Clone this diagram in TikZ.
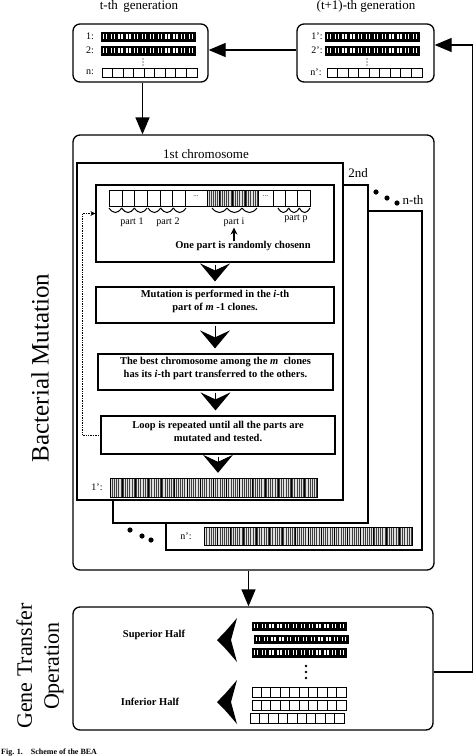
\documentclass[tikz,border=0pt]{standalone}
\usepackage{fontspec}
\setmainfont{Liberation Serif}
\usetikzlibrary{arrows.meta,positioning,fit,patterns.meta,calc}

% bars of genes: x1 y1 x2 y2 cells
\newcommand{\hatchbar}[5]{%
  \fill[gray!25] (#1,#2) rectangle (#3,#4);
  \fill[pattern={Lines[angle=90,distance=2.2pt,line width=0.7pt]}, pattern color=black!75] (#1,#2) rectangle (#3,#4);
  \pgfmathsetmacro\cw{(#3-#1)/#5}
  \foreach \k in {0,...,#5} {\draw[line width=1pt] ({#1+\k*\cw},#2) -- ({#1+\k*\cw},#4);}
  \draw[line width=1pt] (#1,#2) rectangle (#3,#4);}
\newcommand{\darkbar}[5]{%
  \fill[black] (#1,#2) rectangle (#3,#4);
  \pgfmathsetmacro\cw{(#3-#1)/#5}
  \foreach \k in {1,...,#5} {
    \fill[white] ({#1+(\k-1)*\cw+0.22*\cw},#2+1.6) rectangle ({#1+(\k-1)*\cw+0.4*\cw},#4-1.6);
    \fill[white] ({#1+(\k-1)*\cw+0.6*\cw},#2+1.6) rectangle ({#1+(\k-1)*\cw+0.78*\cw},#4-1.6);}
  \draw[line width=0.8pt] (#1,#2) rectangle (#3,#4);}
\newcommand{\whitebar}[5]{%
  \pgfmathsetmacro\cw{(#3-#1)/#5}
  \foreach \k in {0,...,#5} {\draw[line width=1pt] ({#1+\k*\cw},#2) -- ({#1+\k*\cw},#4);}
  \draw[line width=1pt] (#1,#2) rectangle (#3,#4);}

\begin{document}
\begin{tikzpicture}%
	[x=1pt, y=-1pt,
	genbox/.style = {draw, rounded corners=7pt, line width=1.3pt, inner sep=0pt},
	chrom/.style = {draw, fill=white, line width=1.2pt, inner sep=0pt},
	stepbox/.style = {draw, fill=white, line width=1.2pt, align=center, inner sep=0pt,
		font=\bfseries\fontsize{10.5}{13}\selectfont},
	title/.style = {inner sep=0pt, font=\fontsize{13}{15}\selectfont},
	lbl/.style = {inner sep=0pt, font=\fontsize{10}{12}\selectfont},
	bold/.style = {inner sep=0pt, font=\bfseries\fontsize{10.5}{12}\selectfont},
	arr/.style = {-{Triangle[length=17pt,width=14pt]}, line width=1.3pt},
	vhead/.style = {-{Stealth[length=18pt,width=30pt,inset=7pt]}, line width=1pt,
		shorten <=2pt, shorten >=5pt},
	loopline/.style = {densely dotted, line width=0.7pt, -{Stealth[length=5pt,width=5pt]}}]
	\useasboundingbox (0,0) rectangle (474,756);

	% generations
	\node[title] (ttl) at (139,6) {t-th\, generation};
	\node[title] (nttl) at (366,6) {(t+1)-th generation};
	\node[genbox, fit={(73,24) (208,82)}] (tgen) {};
	\node[genbox, fit={(297,24) (434,82)}] (ngen) {};
	\node[lbl] (t1) at (90,36) {1:};
	\node[lbl] (t2) at (90,50) {2:};
	\node[lbl] (tn) at (90,72) {n:};
	\darkbar{101}{32}{195}{41}{12}
	\darkbar{101}{46}{195}{55}{12}
	\whitebar{102}{68}{197}{77}{9}
	\node[lbl] (n1) at (317,36) {1':};
	\node[lbl] (n2) at (317,50) {2':};
	\node[lbl] (nn) at (316,72) {n':};
	\darkbar{325}{32}{419}{41}{12}
	\darkbar{325}{46}{419}{55}{12}
	\whitebar{327}{68}{422}{77}{9}
	\foreach \dx in {143,367}
		\foreach \dy in {59,62,65}
			\fill (\dx,\dy) circle[radius=0.7pt];

	% big boxes
	\node[genbox, fit={(73,135) (434,570)}] (bact) {};
	\node[genbox, fit={(73,607) (433,730)}] (gene) {};
	\node[rotate=90, inner sep=0pt, font=\fontsize{25}{28}\selectfont] (bactlab) at (40,368) {Bacterial Mutation};
	\node[rotate=90, inner sep=0pt, align=center, font=\fontsize{22}{27}\selectfont] (genelab) at (40,666) {Gene Transfer\\Operation};

	\draw[arr] ([yshift=3pt]ngen.west) -- ([yshift=3pt]tgen.east);
	\draw[arr] ([xshift=2pt]tgen.south) -- ([xshift=2pt]tgen.south |- bact.north);
	\draw[arr] ([xshift=-5pt]bact.south) -- ([xshift=-5pt]bact.south |- gene.north);
	\draw[arr] ([yshift=-3.5pt]gene.east) -- ++(39,0) |- ([yshift=8pt]ngen.east);

	% chromosomes
	\node[chrom, fit={(166,211) (422,550)}] (chn) {};
	\node[chrom, fit={(113,185) (368,523)}] (ch2) {};
	\node[chrom, fit={(77,163) (343,500)}] (ch1) {};
	\node[title] (ch1lab) at (206,154) {1st chromosome};
	\node[title] (ch2lab) at (358,173) {2nd};
	\node[title] (chnlab) at (413,200) {n-th};
	\foreach \dx/\dy in {376/192, 387/198, 397/203, 130/530, 142/536, 151/540}
		\fill (\dx,\dy) circle[radius=2.6pt];

	% steps of the 1st chromosome
	\node[stepbox, fit={(96,185) (334,262)}] (cellbox) {};
	\node[stepbox, fit={(96,287) (334,323)}] (mutate) {Mutation is performed in the \textit{i}-th\\part of \textit{m} -1 clones.};
	\node[stepbox, fit={(98,354) (333,390)}] (best) {The best chromosome among the \textit{m}\ \ clones\\has its \textit{i}-th part transferred to the others.};
	\node[stepbox, fit={(101,416) (335,454)}] (loop) {Loop is repeated until all the parts are\\mutated and tested.};
	\node[inner sep=0pt, fit={(110,478) (317,497)}] (bar1) {};
	\node[inner sep=0pt, fit={(204,527) (412,545)}] (barn) {};
	\hatchbar{110}{478}{317}{497}{16}
	\hatchbar{204}{527}{412}{545}{16}
	\node[lbl] (b1lab) at (97,487) {1':};
	\node[lbl] (bnlab) at (186,536) {n':};

	\draw[vhead] (cellbox.south) -- (cellbox.south |- mutate.north);
	\draw[vhead] (mutate.south) -- (mutate.south |- best.north);
	\draw[vhead] (best.south) -- (best.south |- loop.north);
	\draw[vhead] (loop.south) -- (loop.south |- bar1.north);
	\draw[loopline] (loop.west) -- ++(-18,0) |- ([yshift=10pt]cellbox.west);

	% cells and parts
	\foreach \ca/\cb in {109/122, 122/134, 134/147, 147/160, 160/172, 172/185, 185/207, 258/273, 273/285, 285/297, 297/310}
		\draw[line width=1pt] (\ca,190) rectangle (\cb,206);
	\hatchbar{207}{190}{258}{206}{4}
	\node[lbl] (gap1) at (196,196) {\fontsize{7}{7}\selectfont...};
	\node[lbl] (gap2) at (265.5,196) {\fontsize{7}{7}\selectfont...};
	\foreach \pa/\pb in {109/147, 148/186, 212/257, 278/310} {
		\pgfmathsetmacro\w{(\pb-\pa)/3}
		\foreach \i in {0,1,2}
			\draw[line width=1pt] ({\pa+\i*\w},208) .. controls ({\pa+\i*\w+\w/3},214) and ({\pa+(\i+1)*\w-\w/3},214) .. ({\pa+(\i+1)*\w},208);
	}
	\node[lbl] (part1) at (132,222) {part 1};
	\node[lbl] (part2) at (168,222) {part 2};
	\node[lbl] (parti) at (234,222) {part i};
	\node[lbl] (partp) at (296,219) {part p};
	\node[bold] (chosen) at (243,246) {One part is randomly chosenn};
	\draw[-{Stealth[length=7pt,width=7pt]}, line width=1.4pt] (chosen.north -| parti.south) -- ([yshift=-1pt]parti.south);

	% gene transfer
	\node[bold] (sup) at (154,635) {Superior Half};
	\node[bold] (inf) at (150,702) {Inferior Half};
	\foreach \yc in {640,702}
		\fill (217,\yc) .. controls (225,\yc-8) .. (237,\yc-22) -- (231,\yc) -- (237,\yc+22) .. controls (225,\yc+8) .. (217,\yc) -- cycle;
	\darkbar{252}{622}{346}{630}{12}
	\darkbar{254}{635}{348}{643}{12}
	\darkbar{252}{648}{346}{657}{12}
	\foreach \dy in {666,672,678}
		\fill (306,\dy) circle[radius=1.3pt];
	\whitebar{252}{687}{346}{697}{10}
	\whitebar{252}{700}{346}{710}{10}
	\whitebar{250}{713}{344}{723}{10}

	% caption
	\node[anchor=base west, inner sep=0pt, font=\bfseries\fontsize{8}{10}\selectfont] (cap) at (1,754) {Fig. 1.\quad Scheme of the BEA};
\end{tikzpicture}
\end{document}
